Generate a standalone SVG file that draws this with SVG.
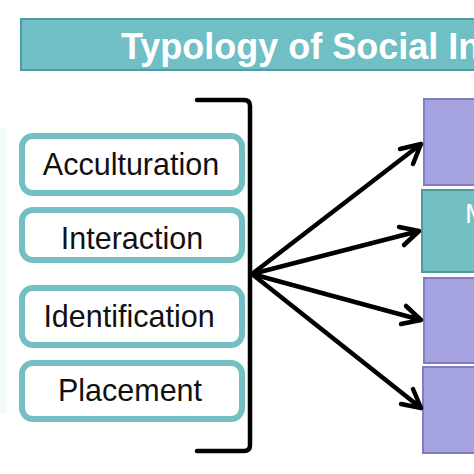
<svg xmlns="http://www.w3.org/2000/svg" width="474" height="474" viewBox="0 0 474 474">
<defs>
<style>
.title{fill:#70bfc5;stroke:#4d9ea4;stroke-width:2}
.ttext{font-family:"Liberation Sans",Arial,sans-serif;font-weight:bold;font-size:36px;fill:#ffffff}
.lbox{fill:#ffffff;stroke:#74bfc4;stroke-width:6}
.ltext{font-family:"Liberation Sans",Arial,sans-serif;font-size:30.5px;fill:#111111;text-anchor:middle}
.pbox{fill:#a5a2e0;stroke:#7f7bc9;stroke-width:2}
.tbox{fill:#72c0c4;stroke:#4f9a9c;stroke-width:2}
.wtext{font-family:"Liberation Sans",Arial,sans-serif;font-size:28px;fill:#ffffff}
.conn{fill:none;stroke:#000000;stroke-width:4.5;stroke-linecap:round;stroke-linejoin:round}
</style>
</defs>
<rect x="0" y="0" width="474" height="474" fill="#ffffff"/>
<rect x="-10" y="128" width="17" height="285" fill="#f4f9fb"/>
<g id="title">
<rect class="title" x="21" y="19" width="470" height="51"/>
<text class="ttext" x="121" y="59">Typology of Social In</text>
</g>
<g id="acculturation">
<rect class="lbox" x="22" y="136" width="220" height="57" rx="11"/>
<text class="ltext" x="131" y="175">Acculturation</text>
</g>
<g id="interaction">
<rect class="lbox" x="22" y="210" width="220" height="50" rx="11"/>
<text class="ltext" x="132" y="249">Interaction</text>
</g>
<g id="identification">
<rect class="lbox" x="22" y="288" width="220" height="57" rx="11"/>
<text class="ltext" x="129" y="327">Identification</text>
</g>
<g id="placement">
<rect class="lbox" x="22" y="363" width="220" height="56" rx="11"/>
<text class="ltext" x="130" y="401">Placement</text>
</g>
<g id="r1"><rect class="pbox" x="424" y="99" width="60" height="86"/></g>
<g id="r2"><rect class="tbox" x="422" y="190" width="62" height="82"/>
<text class="wtext" x="465" y="223">M</text></g>
<g id="r3"><rect class="pbox" x="424" y="278" width="60" height="85"/></g>
<g id="r4"><rect class="pbox" x="423" y="367" width="61" height="86"/></g>
<g id="connectors">
<path class="conn" d="M197 100 L244 100 Q250 100 250 106 L250 445 Q250 451 244 451 L197 451"/>
<path class="conn" d="M252 274 L421 144 M400 149 L421 144 L413 164"/>
<path class="conn" d="M252 274 L419 231 M399 227 L419 231 L404 245"/>
<path class="conn" d="M252 274 L421 320 M406 306 L421 320 L401 324"/>
<path class="conn" d="M252 274 L421 408 M413 389 L421 408 L401 404"/>
</g>
</svg>
